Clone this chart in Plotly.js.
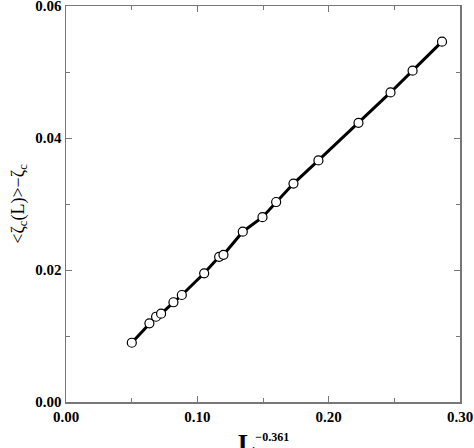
<!DOCTYPE html>
<html>
<head>
<meta charset="utf-8">
<script src="https://cdn.plot.ly/plotly-3.0.1.min.js"></script>
<style>
  html, body { margin: 0; padding: 0; background: #fff; }
  #chart { width: 474px; height: 448px; }
</style>
</head>
<body>
<div id="chart"></div>
<script>
// L^-0.361 values
const lScaled = [0.0501, 0.0635, 0.0686, 0.0724, 0.0818, 0.0882, 0.1052, 0.1166, 0.1199,
                 0.1346, 0.1496, 0.1600, 0.1732, 0.1922, 0.2227, 0.2471, 0.2639, 0.2863];
// <zeta_c(L)> - zeta_c
const zetaDiff = [0.00898, 0.01192, 0.01292, 0.01338, 0.01511, 0.01621, 0.0195, 0.0220, 0.0223,
                  0.0258, 0.0280, 0.0303, 0.0331, 0.0366, 0.0423, 0.0469, 0.0502, 0.0546];

const xTicks = [0, 0.1, 0.2, 0.3];
const xTickText = ["0.00", "0.10", "0.20", "0.30"];
const yTicks = [0, 0.02, 0.04, 0.06];
const yTickText = ["0.00", "0.02", "0.04", "0.06"];

const serif = "Liberation Serif, Times New Roman, serif";

const data = [{
    x: lScaled,
    y: zetaDiff,
    mode: 'lines+markers',
    type: 'scatter',
    line: { color: '#000', width: 3 },
    marker: {
        color: '#fff',
        size: 9,
        symbol: 'circle',
        line: { color: '#000', width: 1.2 }
    },
    showlegend: false
}];

const axisCommon = {
    showgrid: false,
    zeroline: false,
    showline: true,
    linecolor: '#777',
    linewidth: 1.5,
    mirror: 'ticks',
    ticks: 'inside',
    ticklen: 6,
    tickwidth: 1,
    tickcolor: '#777',
    ticklabeloverflow: 'allow',
    tickfont: { family: serif, size: 15, color: '#000', weight: 'bold' },
    automargin: false
};

const layout = {
    width: 474,
    height: 448,
    margin: { t: 6, b: 46, l: 66, r: 14 },
    paper_bgcolor: '#fff',
    plot_bgcolor: '#fff',
    xaxis: Object.assign({}, axisCommon, {
        range: [0, 0.3],
        tickvals: xTicks,
        ticktext: xTickText,
        minor: { dtick: 0.05, ticks: 'inside', ticklen: 4, tickcolor: '#777' }
    }),
    yaxis: Object.assign({}, axisCommon, {
        range: [0, 0.06],
        tickvals: yTicks,
        ticktext: yTickText,
        minor: { dtick: 0.01, ticks: 'inside', ticklen: 4, tickcolor: '#777' },
        title: {
            text: '&lt;ζ<sub>c</sub>(L)&gt;−ζ<sub>c</sub>',
            font: { family: serif, size: 18, color: '#000' },
            standoff: 6
        }
    }),
    // x-axis title sits low and is partly cut by the bottom edge, as in the original
    annotations: [{
        xref: 'paper', yref: 'paper',
        x: 0.5, y: -0.062,
        xanchor: 'center', yanchor: 'top',
        showarrow: false,
        text: '<b>L</b><sup><span style="font-size:12px"><b>−0.361</b></span></sup>',
        font: { family: serif, size: 26, color: '#000' }
    }]
};

Plotly.newPlot('chart', data, layout, { displayModeBar: false, staticPlot: true });
</script>
</body>
</html>
